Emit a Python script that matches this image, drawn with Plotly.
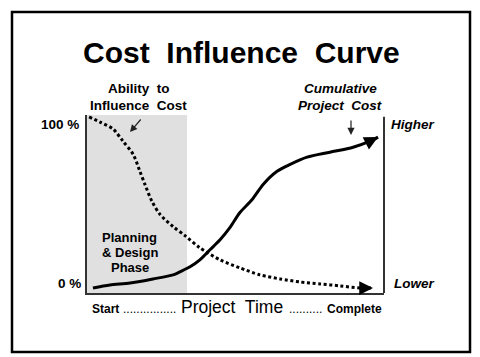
import plotly.graph_objects as go

W, H = 480, 357

# ---- data (project time 0-100 %, value 0-100 %) ----
time_cost = [2.0, 7.7, 14.5, 22.2, 29.0, 31.3, 34.7, 38.0, 41.4, 44.8, 48.1,
             51.5, 55.6, 59.3, 64.0, 68.4, 74.1, 81.8, 89.6, 95.3, 98.0]
cumulative_cost = [2.8, 4.5, 5.6, 7.9, 10.2, 11.9, 14.7, 18.6, 24.3, 29.9, 36.7,
                   45.2, 52.5, 61.0, 68.4, 72.3, 76.3, 79.1, 81.9, 85.3, 87.6]
time_influence = [0.7, 4.4, 8.8, 12.1, 15.5, 17.8, 19.5, 21.9, 24.6, 29.0, 33.0,
                  38.0, 44.8, 51.5, 58.2, 65.0, 71.7, 78.5, 85.2, 91.9, 96.3]
influence = [98.9, 96.0, 92.1, 85.3, 78.0, 68.4, 61.0, 51.4, 44.1, 37.3, 32.2,
             25.4, 18.6, 14.1, 10.2, 7.9, 6.2, 5.1, 4.0, 2.8, 2.8]
design_phase_end = 33.7
y_tick_labels = ["0 %", "100 %"]
right_labels = ["Lower", "Higher"]

FONT = "Liberation Sans, Arial, sans-serif"


def P(px, py):
    return px / W, 1 - py / H


fig = go.Figure()

fig.add_trace(go.Scatter(
    x=time_influence, y=influence, mode="lines",
    line=dict(color="black", width=3, dash="3px,2.6px", shape="spline", smoothing=0.8),
    hoverinfo="skip", showlegend=False))
fig.add_trace(go.Scatter(
    x=time_cost, y=cumulative_cost, mode="lines",
    line=dict(color="black", width=3, shape="spline", smoothing=0.8),
    hoverinfo="skip", showlegend=False))

ann = []


def txt(text, px, py, size, xanchor="center", bold=True, italic=False, color="black"):
    t = text
    if bold:
        t = "<b>" + t + "</b>"
    if italic:
        t = "<i>" + t + "</i>"
    x, y = P(px, py)
    ann.append(dict(text=t, x=x, y=y, xref="paper", yref="paper", xanchor=xanchor,
                    yanchor="middle", showarrow=False,
                    font=dict(family=FONT, size=size, color=color)))


NB = "\u00a0"
txt("Cost" + NB + " Influence" + NB + " Curve", 241, 52, 30)
txt("Ability" + NB + " to", 138.5, 88, 13.5)
txt("Influence" + NB + " Cost", 138.5, 105, 13.5)
txt("Cumulative", 340, 88, 13.5, italic=True)
txt("Project" + NB + " Cost", 340, 105, 13.5, italic=True)
txt(y_tick_labels[1], 81, 125, 13.5, xanchor="right")
txt(y_tick_labels[0], 83, 283, 13.5, xanchor="right")
txt(right_labels[1], 389, 125, 13.5, xanchor="left", italic=True)
txt(right_labels[0], 392, 283, 13.5, xanchor="left", italic=True)
txt("Planning", 129.5, 237, 13)
txt("&" + NB + "Design", 129.5, 252, 13)
txt("Phase", 129.5, 267, 13)
txt("Start", 90, 309, 12, xanchor="left")
txt("." * 16, 121, 309, 12, xanchor="left", bold=False)
txt("Project" + NB + " Time", 231.5, 307, 17.5, bold=False)
txt("." * 10, 287, 309, 12, xanchor="left", bold=False)
txt("Complete", 384, 309, 12, xanchor="right")

# curve arrowheads
ann.append(dict(x=time_cost[-1], y=cumulative_cost[-1], ax=time_cost[-2], ay=cumulative_cost[-2],
                xref="x", yref="y", axref="x", ayref="y", text="", showarrow=True,
                arrowhead=2, arrowsize=1.1, arrowwidth=2.5, arrowcolor="black"))
ann.append(dict(x=time_influence[-1], y=influence[-1], ax=time_influence[-1] - 3, ay=influence[-1],
                xref="x", yref="y", axref="x", ayref="y", text="", showarrow=True,
                arrowhead=2, arrowsize=1.1, arrowwidth=2.5, arrowcolor="black"))

# pointer arrows
hx, hy = P(130, 132)
ann.append(dict(x=hx, y=hy, xref="paper", yref="paper", ax=12, ay=-14, text="",
                showarrow=True, arrowhead=2, arrowsize=1.2, arrowwidth=1.2, arrowcolor="#222"))
hx, hy = P(351, 135)
ann.append(dict(x=hx, y=hy, xref="paper", yref="paper", ax=0, ay=-16, text="",
                showarrow=True, arrowhead=2, arrowsize=1.2, arrowwidth=1.2, arrowcolor="#222"))

bx0, by0 = P(12, 352)
bx1, by1 = P(470, 12)
shapes = [
    dict(type="rect", xref="x", yref="y domain", x0=0, x1=design_phase_end, y0=0, y1=1,
         fillcolor="#e0e0e0", line=dict(width=0), layer="below"),
    dict(type="line", xref="x domain", yref="y domain", x0=1, x1=1, y0=0, y1=0.99,
         line=dict(color="#333", width=2)),
    dict(type="rect", xref="paper", yref="paper", x0=bx0, x1=bx1, y0=by0, y1=by1,
         line=dict(color="black", width=2.5)),
]

fig.update_layout(
    width=W, height=H, margin=dict(l=0, r=0, t=0, b=0),
    paper_bgcolor="white", plot_bgcolor="white",
    xaxis=dict(domain=[87 / W, 384 / W], range=[0, 100], showgrid=False, zeroline=False,
               showticklabels=False, ticks="", showline=True, linecolor="#333", linewidth=2),
    yaxis=dict(domain=[1 - 293 / H, 1 - 115 / H], range=[0, 100], showgrid=False, zeroline=False,
               showticklabels=False, ticks="", showline=True, linecolor="#333", linewidth=2),
    annotations=ann, shapes=shapes, hovermode=False,
)

fig.write_html("out.html", config={"displayModeBar": False, "staticPlot": True},
               post_script="document.body.style.margin='0px';document.body.style.overflow='hidden';")
